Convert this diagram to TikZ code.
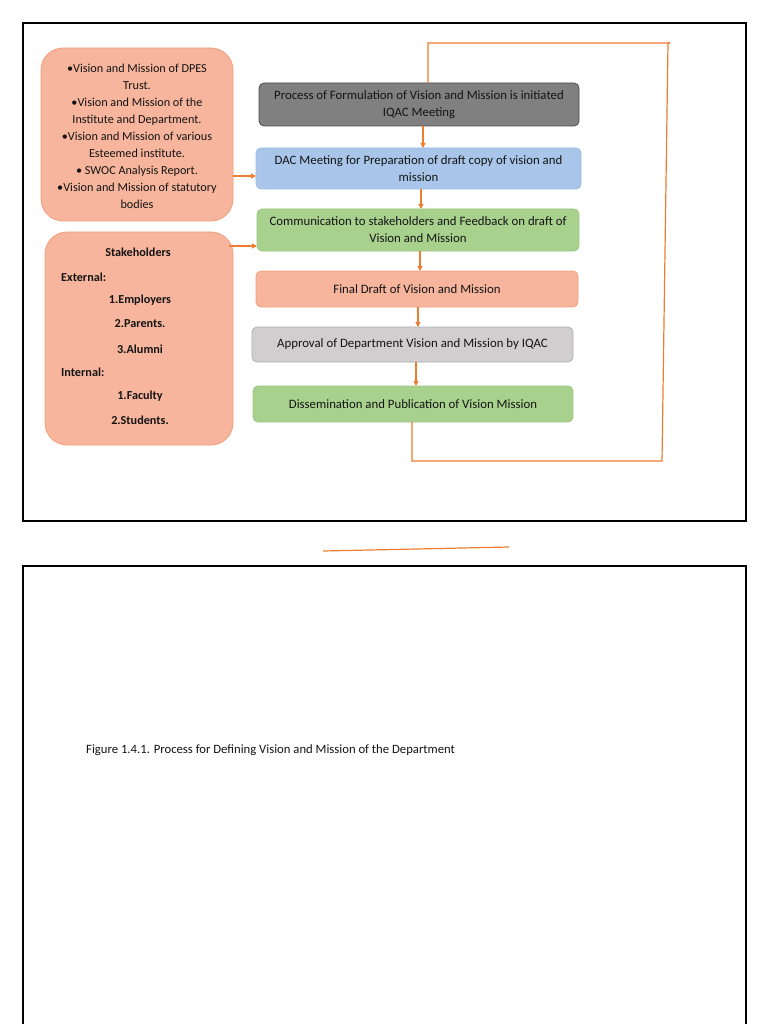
\documentclass[tikz,border=0pt]{standalone}
\usepackage{fontspec}
\setmainfont{Carlito}
\usetikzlibrary{arrows.meta}
\definecolor{lineor}{HTML}{ED7D31}
\definecolor{salmon}{HTML}{F6B59C}
\definecolor{salmonb}{HTML}{F2A07E}
\definecolor{bluef}{HTML}{A9C6EA}
\definecolor{blueb}{HTML}{9DBBE0}
\definecolor{greenf}{HTML}{A9D18E}
\definecolor{greenb}{HTML}{9CC680}
\definecolor{dgray}{HTML}{808080}
\definecolor{lgray}{HTML}{D0CECE}
\definecolor{txt}{HTML}{141414}
\tikzset{
  flowbox/.style={draw, rounded corners=5pt, inner sep=0pt, outer sep=0pt, align=center, text=txt, font=\fontsize{12.8}{17}\selectfont, line width=0.8pt},
  sidebox/.style={draw=salmonb, fill=salmon, rounded corners=22pt, inner sep=0pt, outer sep=0pt, line width=0.8pt},
  conn/.style={draw=lineor, line width=1.2pt},
  arr/.style={conn, -{Triangle[length=5pt,width=5pt]}},
  frame/.style={draw=black, line width=2pt},
  sidetxt/.style={text=txt, inner sep=0pt, font=\fontsize{12.2}{17}\selectfont},
  stktxt/.style={text=txt, inner sep=0pt, font=\fontsize{12.2}{13}\selectfont\bfseries}
}
\begin{document}
\begin{tikzpicture}[x=1pt,y=-1pt]
\useasboundingbox[fill=white] (0,0) rectangle (768,1024);
% frames
\draw[frame] (23,23) rectangle (746,521);
\draw[frame] (23,1030) -- (23,566) -- (746,566) -- (746,1030);
% left boxes
\node[sidebox, minimum width=192pt, minimum height=173pt] (src) at (137,134.5) {};
\node[sidetxt, align=center] (srct) at (137,136) {\textbullet Vision and Mission of DPES\\Trust.\\\textbullet Vision and Mission of the\\Institute and Department.\\\textbullet Vision and Mission of various\\Esteemed institute.\\\textbullet\ SWOC Analysis Report.\\\textbullet Vision and Mission of statutory\\bodies};
\node[sidebox, minimum width=188pt, minimum height=213pt] (stk) at (139,338.5) {};
\node[stktxt] (s0) at (138,252) {Stakeholders};
\node[stktxt, anchor=west] (s1) at (61,277) {External:};
\node[stktxt] (s2) at (140,300) {1.Employers};
\node[stktxt] (s3) at (140,324) {2.Parents.};
\node[stktxt] (s4) at (140,349) {3.Alumni};
\node[stktxt, anchor=west] (s5) at (61,372) {Internal:};
\node[stktxt] (s6) at (140,396) {1.Faculty};
\node[stktxt] (s7) at (140,420) {2.Students.};
% flow boxes
\node[flowbox, fill=dgray, draw=black!70, minimum width=320pt, minimum height=43pt] (b1) at (419,104.5) {Process of Formulation of Vision and Mission is initiated\\IQAC Meeting};
\node[flowbox, fill=bluef, draw=blueb, minimum width=325pt, minimum height=41pt] (b2) at (418.5,168.5) {DAC Meeting for Preparation of draft copy of vision and\\mission};
\node[flowbox, fill=greenf, draw=greenb, minimum width=322pt, minimum height=42pt] (b3) at (418,230) {Communication to stakeholders and Feedback on draft of\\Vision and Mission};
\node[flowbox, fill=salmon, draw=salmonb, minimum width=322pt, minimum height=36pt] (b4) at (417,289) {Final Draft of Vision and Mission};
\node[flowbox, fill=lgray, draw=lgray!85!black, minimum width=321pt, minimum height=35pt] (b5) at (412.5,344.5) {Approval of Department Vision and Mission by IQAC};
\node[flowbox, fill=greenf, draw=greenb, minimum width=320pt, minimum height=36pt] (b6) at (413,404) {Dissemination and Publication of Vision Mission};
% arrows
\draw[arr] ([xshift=4pt]b1.south) -- ([xshift=4.5pt]b2.north);
\draw[arr] ([xshift=2.5pt]b2.south) -- ([xshift=3pt]b3.north);
\draw[arr] ([xshift=2pt]b3.south) -- ([xshift=3pt]b4.north);
\draw[arr] ([xshift=1pt]b4.south) -- ([xshift=5.5pt]b5.north);
\draw[arr] ([xshift=3.5pt]b5.south) -- ([xshift=3pt]b6.north);
\draw[arr] (src.east |- 0,176) -- (b2.west |- 0,176);
\draw[arr] ([xshift=-4pt]stk.north east |- 0,246) -- (b3.west |- 0,246);
% feedback loop
\coordinate (l1) at (412,461);
\coordinate (l2) at (662,461);
\coordinate (l3) at (668,43);
\coordinate (l4) at (428,43);
\draw[conn] ([xshift=-1pt]b6.south) -- (l1) -- (l2) -- (l3) -- (l4) -- ([xshift=9pt]b1.north);
\draw[conn] (l3) -- ++(2,0);
% separator line
\coordinate (m1) at (323,551);
\coordinate (m2) at (509,547);
\draw[conn] (m1) -- (m2);
% caption
\node[anchor=west, inner sep=0pt, text=txt, font=\fontsize{12.7}{14}\selectfont] (cap) at (86,750) {Figure 1.4.1. Process for Defining Vision and Mission of the Department};
\end{tikzpicture}
\end{document}
